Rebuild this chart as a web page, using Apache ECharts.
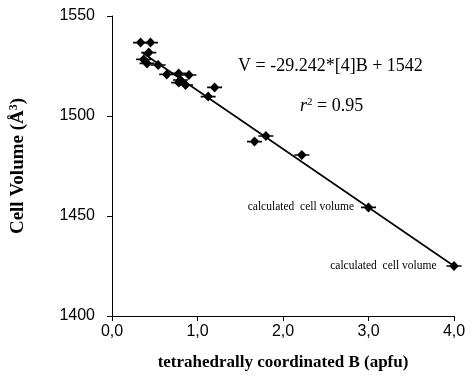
<!DOCTYPE html>
<html>
<head>
<meta charset="utf-8">
<script src="https://cdn.jsdelivr.net/npm/echarts@6/dist/echarts.min.js"></script>
<style>html,body{margin:0;padding:0;background:#fff;}#c{width:474px;height:381px;}</style>
</head>
<body>
<div id="c"></div>
<script>
// Measured points: tetrahedral B (apfu) vs cell volume (Å^3)
const pointsX = [0.334, 0.45, 0.43, 0.37, 0.41, 0.54, 0.64, 0.78, 0.90, 0.80, 0.78, 0.86, 1.20, 1.125, 1.667, 1.80, 2.22];
const pointsY = [1536.7, 1536.7, 1531.7, 1528.3, 1526.3, 1525.5, 1520.8, 1521.3, 1520.5, 1518.0, 1516.7, 1515.5, 1514.3, 1509.7, 1487.2, 1490.0, 1480.5];
// Calculated cell volumes
const calcX = [3.0, 4.0];
const calcY = [1454.3, 1425.0];
const calcLabels = ['calculated  cell volume', 'calculated  cell volume'];
// Trend line endpoints (V = -29.242*[4]B + 1542)
const trendX = [0.36, 4.0];
const trendY = [1531.5, 1425.0];
const xTicks = [0, 1, 2, 3, 4];
const yTicks = [1400, 1450, 1500, 1550];

const marker = 'path://M2.5,5 L7,0 L11.5,5 L7,10 Z M0,4.2 L14,4.2 L14,5.8 L0,5.8 Z';
const serif = "'Liberation Serif', 'Times New Roman', serif";
const sans = "'Liberation Sans', Arial, sans-serif";

const chart = echarts.init(document.getElementById('c'), null, {renderer: 'canvas'});
chart.setOption({
  animation: false,
  backgroundColor: '#fff',
  grid: {left: 103, top: 16, right: 20, bottom: 65},
  xAxis: {
    type: 'value', min: xTicks[0], max: xTicks[xTicks.length - 1], interval: 1,
    splitLine: {show: false},
    axisLine: {lineStyle: {color: '#000', width: 1}},
    axisTick: {show: true, length: 5, lineStyle: {color: '#000'}},
    axisLabel: {color: '#000', fontFamily: sans, fontSize: 16, margin: 8,
      formatter: v => v.toFixed(1).replace('.', ',')},
    name: 'tetrahedrally coordinated B (apfu)',
    nameLocation: 'middle', nameGap: 38,
    nameTextStyle: {color: '#000', fontFamily: serif, fontWeight: 'bold', fontSize: 17}
  },
  yAxis: {
    type: 'value', min: yTicks[0], max: yTicks[yTicks.length - 1], interval: 50,
    splitLine: {show: false},
    axisLine: {show: true, lineStyle: {color: '#000', width: 1}},
    axisTick: {show: true, length: 5, lineStyle: {color: '#000'}},
    axisLabel: {color: '#000', fontFamily: sans, fontSize: 16, margin: 17,
      formatter: v => String(v)},
    name: 'Cell Volume (Å{sup|3})',
    nameLocation: 'middle', nameGap: 84,
    nameTextStyle: {color: '#000', fontFamily: serif, fontWeight: 'bold', fontSize: 19,
      rich: {sup: {fontFamily: serif, fontWeight: 'bold', fontSize: 12, verticalAlign: 'top', padding: [0, 0, 8, 0]}}}
  },
  series: [
    {
      type: 'line', data: trendX.map((x, i) => [x, trendY[i]]),
      symbol: 'none', lineStyle: {color: '#000', width: 1.6}, silent: true, z: 1
    },
    {
      type: 'scatter', data: pointsX.map((x, i) => [x, pointsY[i]]),
      symbol: marker, symbolSize: [15, 10], itemStyle: {color: '#000', opacity: 1}, z: 3
    },
    {
      type: 'scatter',
      data: calcX.map((x, i) => ({
        value: [x, calcY[i]],
        label: {show: true, formatter: calcLabels[i], position: 'left', distance: i === 0 ? 7 : 10,
          color: '#000', fontFamily: serif, fontSize: 11.5}
      })),
      symbol: marker, symbolSize: [15, 10], itemStyle: {color: '#000', opacity: 1}, z: 3
    }
  ],
  graphic: [
    {type: 'text', left: 238, top: 57,
      style: {text: 'V = -29.242*[4]B + 1542', fill: '#000', font: '18px ' + serif}},
    {type: 'text', left: 300, top: 97,
      style: {text: '{i|r}{s|2} = 0.95', fill: '#000', font: '18px ' + serif,
        rich: {i: {fontStyle: 'italic', fontFamily: serif, fontSize: 18},
               s: {fontFamily: serif, fontSize: 11, verticalAlign: 'top', padding: [0, 0, 8, 0]}}}}
  ]
});
</script>
</body>
</html>
